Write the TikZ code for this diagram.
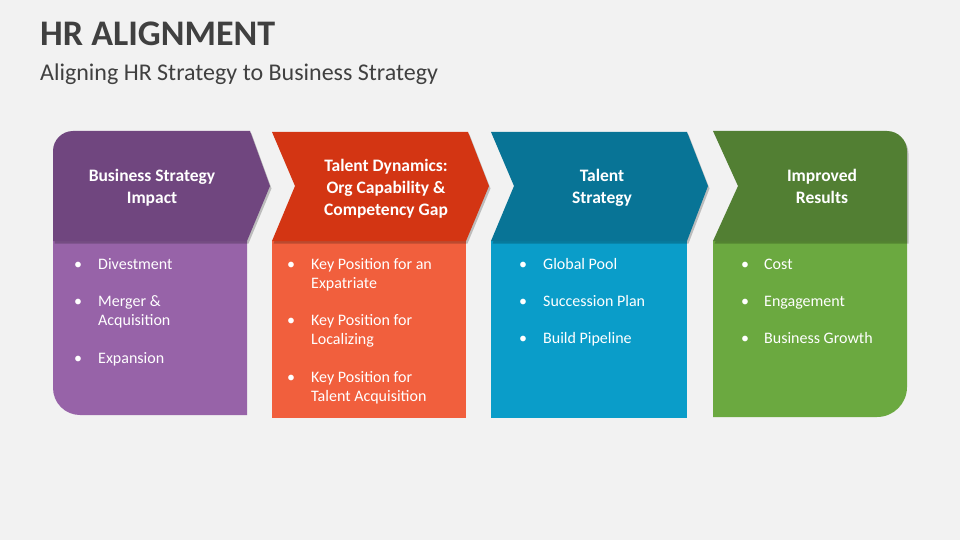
\documentclass[tikz,border=0pt]{standalone}
\usepackage{fontspec}
\setmainfont{Carlito}
\definecolor{bg}{HTML}{F2F2F2}
\definecolor{ttl}{HTML}{404040}
\definecolor{purH}{HTML}{70467F}
\definecolor{purB}{HTML}{9763A8}
\definecolor{oraH}{HTML}{D33513}
\definecolor{oraB}{HTML}{F15F3D}
\definecolor{teaH}{HTML}{087496}
\definecolor{teaB}{HTML}{0A9DC9}
\definecolor{greH}{HTML}{527F33}
\definecolor{greB}{HTML}{6BA940}
\begin{document}
\begin{tikzpicture}[x=1pt,y=-1pt,
  hdr/.style={font=\fontsize{17.5}{22}\selectfont\bfseries, text=white, align=center, inner sep=0},
  itm/.style={font=\fontsize{16}{19}\selectfont, text=white, anchor=base west, inner sep=0},
  bul/.style={font=\fontsize{16}{19}\selectfont, text=white, anchor=base, inner sep=0},
  hshadow/.style={preaction={fill=black, opacity=.22, transform canvas={xshift=1.5pt,yshift=-2.5pt}}}]
\useasboundingbox (0,0) rectangle (960,540);
\fill[bg] (0,0) rectangle (960,540);
% titles
\node[anchor=base west, inner sep=0, text=ttl, font=\fontsize{36}{40}\selectfont\bfseries] (title) at (40,46) {HR ALIGNMENT};
\node[anchor=base west, inner sep=0, text=ttl, font=\fontsize{24}{28}\selectfont] (subtitle) at (40,81) {Aligning HR Strategy to Business Strategy};
% bodies
\fill[purB] (53,241) -- (247,241) -- (247,415) -- (80,415) .. controls (65.1,415) and (53,402.9) .. (53,388) -- cycle;
\fill[oraB] (272,241) rectangle (466,418);
\fill[teaB] (491,241) rectangle (687,418);
\fill[greB] (713,241) -- (907,241) -- (907,387) .. controls (907,403.6) and (893.6,417) .. (877,417) -- (713,417) -- cycle;
% headers
\fill[purH, hshadow] (53,241) -- (53,151) .. controls (53,140) and (62,131) .. (73,131) -- (250,131) -- (270,186) -- (247,241) -- cycle;
\fill[oraH, hshadow] (272,132) -- (468,132) -- (489,186) -- (466,241) -- (272,241) -- (295,186) -- cycle;
\fill[teaH, hshadow] (491,132) -- (687,132) -- (708,186) -- (687,241) -- (491,241) -- (514,186) -- cycle;
\fill[greH, hshadow] (713,131) -- (887,131) .. controls (898,131) and (907,140) .. (907,151) -- (907,241) -- (713,241) -- (738,186) -- cycle;
% header texts
\node[hdr] (h1) at (152,188) {Business Strategy\\Impact};
\node[hdr] (h2) at (386,189) {Talent Dynamics:\\Org Capability \&\\Competency Gap};
\node[hdr] (h3) at (602,188) {Talent\\Strategy};
\node[hdr] (h4) at (822,186) {Improved\\Results};
% panel 1 items
\node[bul] (b11) at (78,269) {•};
\node[itm] (t11) at (98,269) {Divestment};
\node[bul] (b12) at (78,306) {•};
\node[itm] (t12) at (98,306) {Merger \&};
\node[itm] (t12b) at (98,325) {Acquisition};
\node[bul] (b13) at (78,363) {•};
\node[itm] (t13) at (98,363) {Expansion};
% panel 2 items
\node[bul] (b21) at (291,269) {•};
\node[itm] (t21) at (311,269) {Key Position for an};
\node[itm] (t21b) at (311,288) {Expatriate};
\node[bul] (b22) at (291,325) {•};
\node[itm] (t22) at (311,325) {Key Position for};
\node[itm] (t22b) at (311,344) {Localizing};
\node[bul] (b23) at (291,382) {•};
\node[itm] (t23) at (311,382) {Key Position for};
\node[itm] (t23b) at (311,401) {Talent Acquisition};
% panel 3 items
\node[bul] (b31) at (523,269) {•};
\node[itm] (t31) at (543,269) {Global Pool};
\node[bul] (b32) at (523,306) {•};
\node[itm] (t32) at (543,306) {Succession Plan};
\node[bul] (b33) at (523,343) {•};
\node[itm] (t33) at (543,343) {Build Pipeline};
% panel 4 items
\node[bul] (b41) at (745,269) {•};
\node[itm] (t41) at (764,269) {Cost};
\node[bul] (b42) at (745,306) {•};
\node[itm] (t42) at (764,306) {Engagement};
\node[bul] (b43) at (745,343) {•};
\node[itm] (t43) at (764,343) {Business Growth};
\end{tikzpicture}
\end{document}
